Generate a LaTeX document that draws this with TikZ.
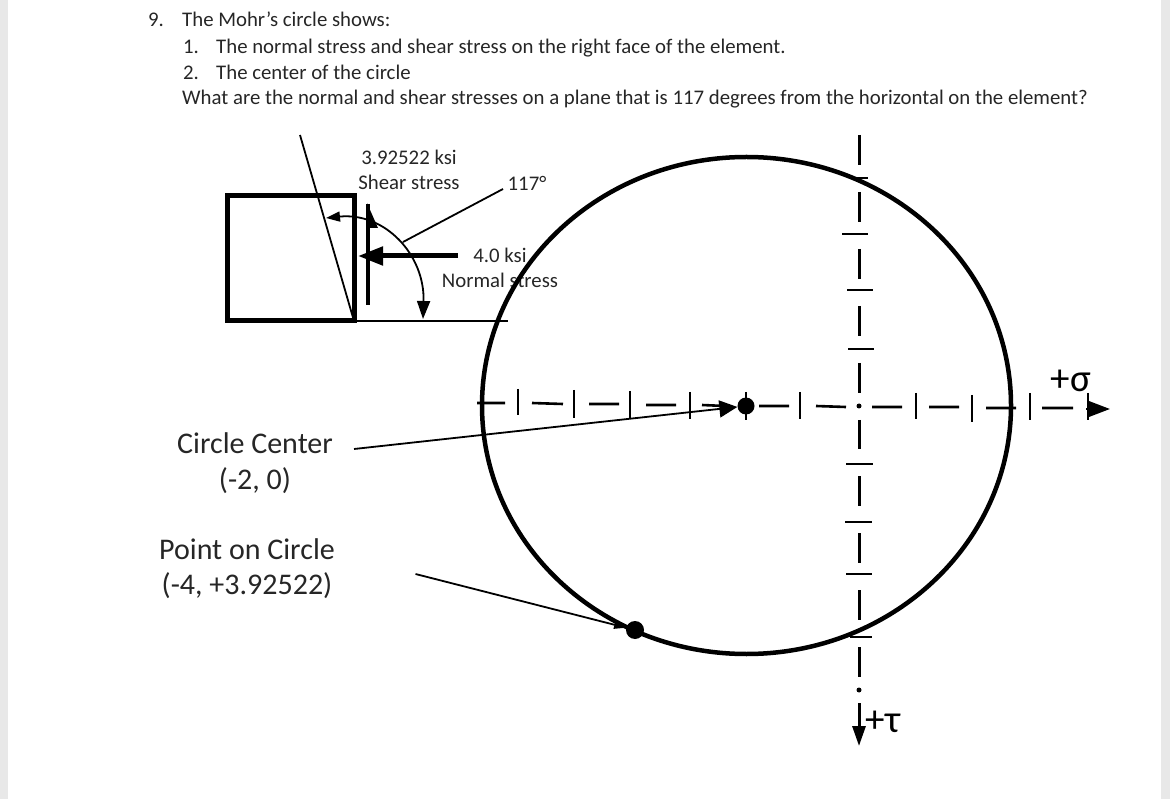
\documentclass[tikz,border=0pt]{standalone}
\usepackage{fontspec}
\setmainfont{Carlito}
\usetikzlibrary{arrows.meta}
\tikzset{
  qtext/.style={anchor=base west, inner sep=0pt, font=\fontsize{20.8}{20.8}\selectfont, text=black!85},
  elabel/.style={inner sep=0pt, font=\fontsize{20.8}{20.8}\selectfont, text=black!85},
  blabel/.style={inner sep=0pt, font=\fontsize{30}{30}\selectfont, text=black!85},
  axlabel/.style={inner sep=0pt, font=\fontsize{39}{39}\selectfont},
  axisline/.style={line width=2.6pt},
  tickline/.style={line width=1.8pt},
  thinline/.style={line width=1.8pt},
  edgeband/.style={fill=black!9},
  bigdot/.style={circle, fill=black, inner sep=0pt, minimum size=#1}
}
\begin{document}
\begin{tikzpicture}[x=1pt,y=-1pt]

\useasboundingbox (0,0) rectangle (1170,799);

% page edges
\fill [edgeband] (0,0) rectangle (8,799);
\fill [edgeband] (1161,0) rectangle (1170,799);

% question text
\node [qtext] (qnum) at (148,27) {9.};
\node [qtext] (qhead) at (182,27) {The Mohr’s circle shows:};
\node [qtext] (qonenum) at (183,54) {1.};
\node [qtext] (qone) at (216,54) {The normal stress and shear stress on the right face of the element.};
\node [qtext] (qtwonum) at (183,80) {2.};
\node [qtext] (qtwo) at (216,80) {The center of the circle};
\node [qtext] (qlast) at (182,105) {What are the normal and shear stresses on a plane that is 117 degrees from the horizontal on the element?};

% element
\draw [line width=5pt] (227,196) rectangle (354,321);
\draw [thinline] (300,135) -- (354,321);
\draw [thinline] (354,321) -- (508,321);

\draw [line width=3.5pt] (368,204) -- (368,305);
\fill (367,203) -- (378,228) -- (367,228) -- cycle;

\node [elabel] (shearval) at (409,157) {3.92522 ksi};
\node [elabel] (shearname) at (409,182) {Shear stress};
\node [elabel] (angle) at (527,183) {117°};
\node [elabel] (normalval) at (500,255) {4.0 ksi};
\node [elabel] (normalname) at (500,280) {Normal stress};

\draw [line width=5pt, -{Triangle[length=25pt,width=18pt]}] (458,256) -- (358,256);
\draw [thinline, {Triangle[length=14pt,width=10pt]}-{Triangle[length=18pt,width=13pt]}] (326,218) .. controls (385,212) and (425,255) .. (423,319);
\draw [thinline] (503,189) -- (403,242);

% axes
\draw [axisline] (477,403) -- (505,403) (532,403) -- (563,404) (589,404) -- (619,404) (646,405) -- (676,405) (702,405) -- (725,406);
\draw [axisline] (759,406) -- (789,406) (816,406) -- (846,407) (872,407) -- (902,407) (929,407) -- (959,407) (986,408) -- (1016,408) (1042,408) -- (1073,408);
\draw [tickline] (518,389) -- (518,415) (574,390) -- (574,418) (630,391) -- (630,418) (690,392) -- (690,419) (746,392) -- (746,420) (800,392) -- (800,419) (916,393) -- (916,419) (972,395) -- (972,422) (1030,393) -- (1030,420) (1088,393) -- (1088,420);
\draw [axisline, -{Triangle[length=22pt,width=16pt]}] (1086,409) -- (1110,409);

\draw [line width=3pt] (859,135) -- (859,165) (859,192) -- (859,222) (859,249) -- (859,279) (859,306) -- (859,336) (859,363) -- (859,393) (859,420) -- (859,449) (859,476) -- (859,506) (859,533) -- (859,563) (859,590) -- (859,620) (859,647) -- (859,677);
\draw [line width=3pt, -{Triangle[length=20pt,width=13pt]}] (859,703) -- (859,746);
\draw [tickline] (857,178) -- (868,178) (842,234) -- (868,234) (847,290) -- (873,290) (848,349) -- (874,349) (846,464) -- (873,464) (845,522) -- (872,522) (846,574) -- (872,574) (850,637) -- (872,637);
\node [bigdot=5pt] (origin) at (859,406) {};
\node [bigdot=5pt] (lowdot) at (859,690) {};

\node [axlabel] (sigmalabel) at (1071,381) {+σ};
\node [axlabel] (taulabel) at (883,722) {+τ};

% circle
\draw [line width=4.5pt] (746.5,405.5) ellipse (264.5 and 248.5);

\node [bigdot=17pt] (centerdot) at (746,406) {};
\node [bigdot=18pt] (pointdot) at (635,630) {};

\node [blabel] (cclabel) at (255,443) {Circle Center};
\node [blabel] (ccvalue) at (255,481) {(-2, 0)};
\node [blabel] (pclabel) at (247,549) {Point on Circle};
\node [blabel] (pcvalue) at (247,586) {(-4, +3.92522)};

\draw [thinline, -{Triangle[length=18pt,width=17pt]}] ([shift={(21,6)}]cclabel.east) -- (centerdot);
\draw [thinline, -{Triangle[length=12pt,width=8pt]}] ([shift={(83,-12)}]pcvalue.east) -- (pointdot);

\end{tikzpicture}
\end{document}
